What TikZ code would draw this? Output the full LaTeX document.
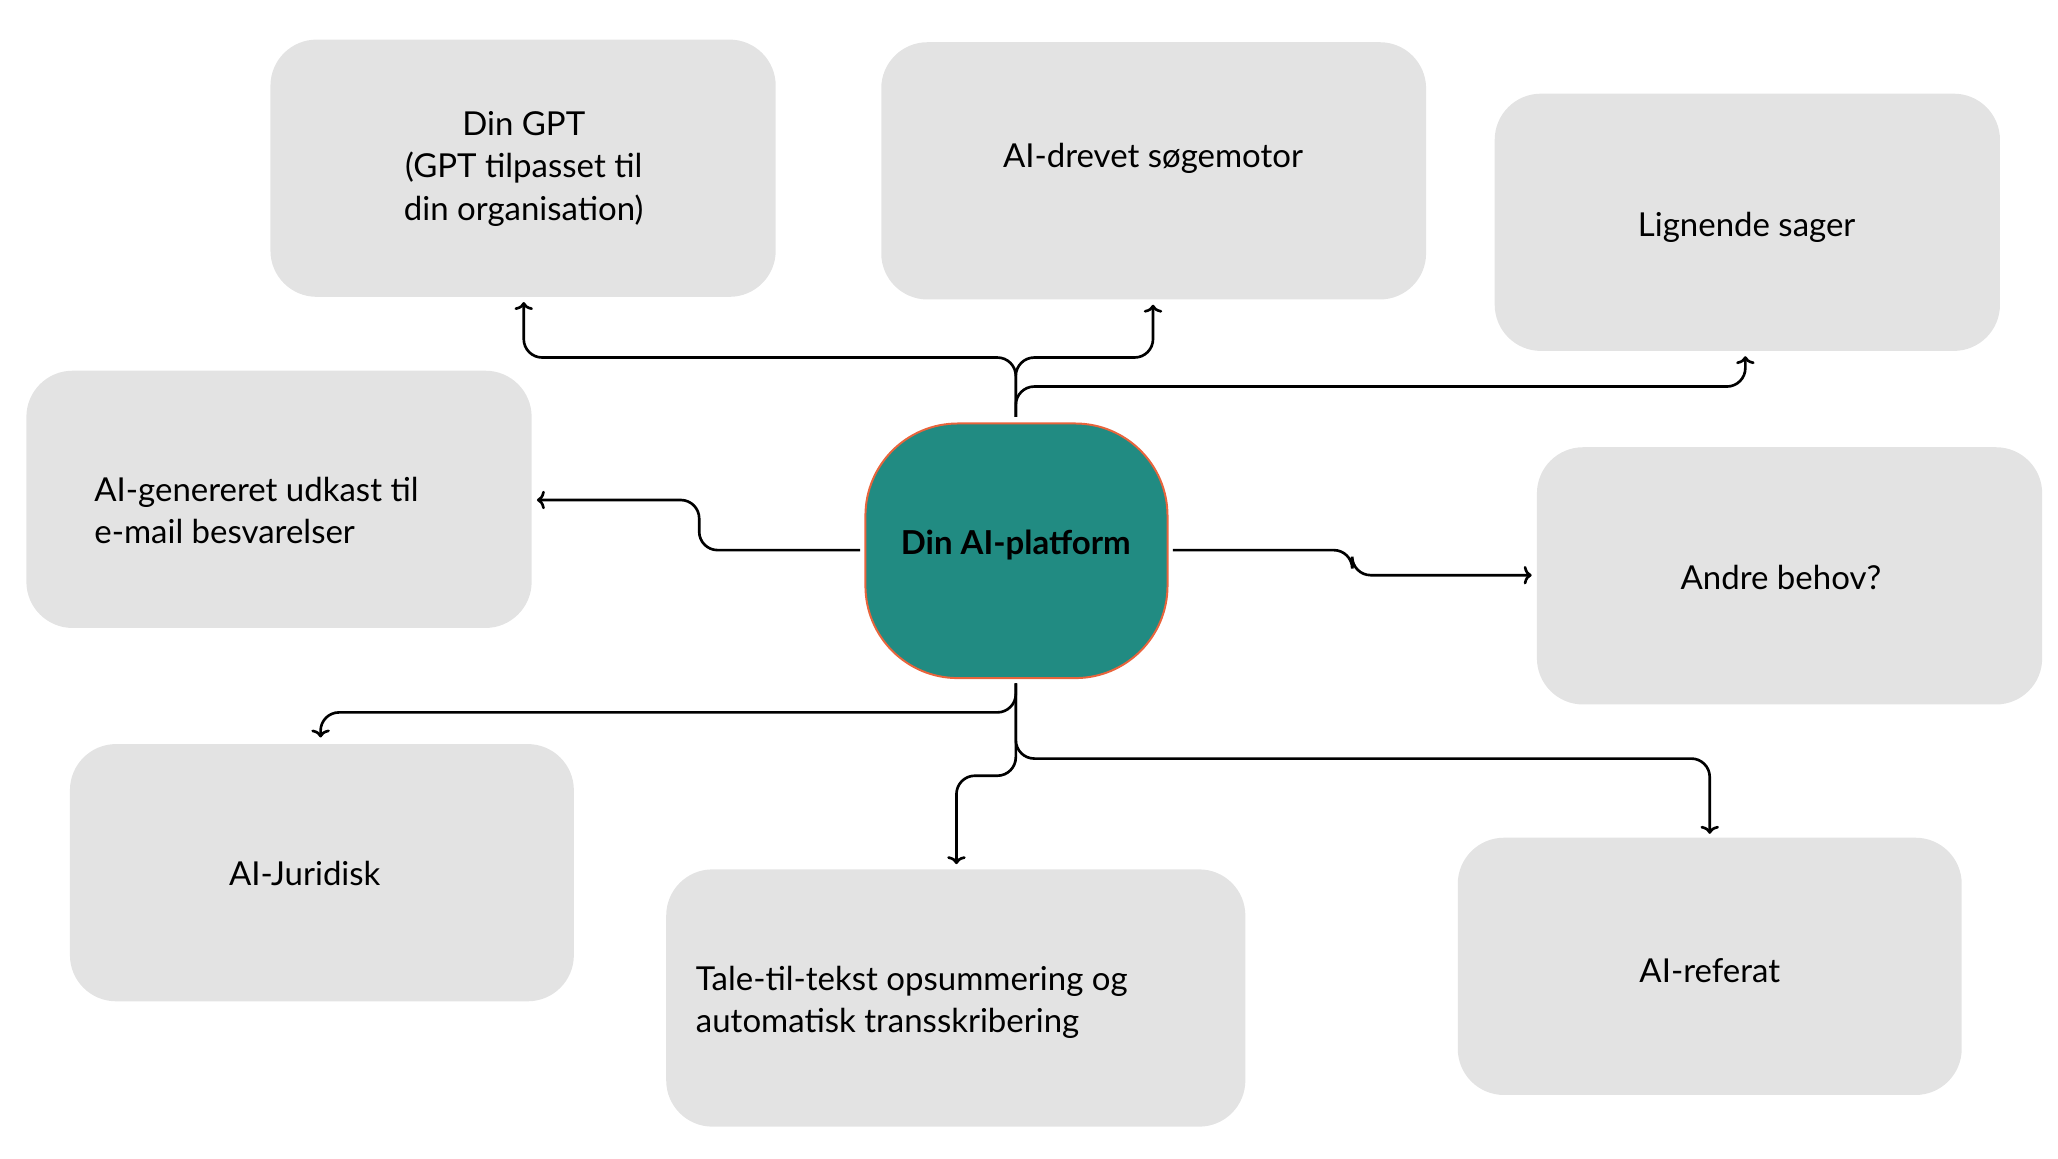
\documentclass[tikz,border=0pt]{standalone}
\usepackage{fontspec}
\setmainfont{Lato}
\usetikzlibrary{arrows.meta}
\definecolor{boxg}{HTML}{E3E3E3}
\definecolor{teal}{HTML}{218B82}
\definecolor{orng}{HTML}{E8643C}
\begin{document}
\begin{tikzpicture}[x=1pt,y=-1pt,
 box/.style={fill=boxg,rounded corners=35pt,inner sep=0pt},
 lbl/.style={font=\fontsize{25}{32}\selectfont,align=center},
 lbll/.style={font=\fontsize{25}{32}\selectfont,align=left,anchor=west},
 conn/.style={line width=2pt,rounded corners=14pt,-{To[length=6pt,width=14pt]}}]
\useasboundingbox (0,0) rectangle (1560,878.5);
\fill[box] (205,30) rectangle (588,225);
\fill[box] (668,32) rectangle (1081,227);
\fill[box] (1133,71) rectangle (1516,266);
\fill[box] (20,281) rectangle (403,476);
\fill[box] (1165,339) rectangle (1548,534);
\fill[box] (53,564) rectangle (435,759);
\fill[box] (505,659) rectangle (944,854);
\fill[box] (1105,635) rectangle (1487,830);
\node[lbl] (gpt) at (397,128) {Din GPT\\(GPT tilpasset til\\din organisation)};
\node[lbl] (sog) at (874,120) {AI-drevet søgemotor};
\node[lbl] (lig) at (1324,172) {Lignende sager};
\node[lbll] (mail) at (68,387) {AI-genereret udkast til\\e-mail besvarelser};
\node[lbl] (andre) at (1350,438) {Andre behov?};
\node[lbl] (jur) at (231,662) {AI-Juridisk};
\node[lbll] (tale) at (524,760) {Tale-til-tekst opsummering og\\automatisk transskribering};
\node[lbl] (ref) at (1296,736) {AI-referat};
\draw[fill=teal,draw=orng,line width=1.5pt,rounded corners=70pt] (656,321) rectangle (885,514);
\node[font=\fontsize{25}{32}\selectfont\bfseries] (c) at (770,413) {Din AI-platform};
\coordinate (ct) at (770,316);
\coordinate (cb) at (770,518);
\coordinate (cl) at (652,417);
\coordinate (cr) at (889,417);
\coordinate (e1) at (397,229);
\coordinate (e2) at (874,231);
\coordinate (e3) at (1323,270);
\coordinate (e4) at (407,379);
\coordinate (e5) at (1161,436);
\coordinate (e6) at (243,559);
\coordinate (e7) at (725,655);
\coordinate (e8) at (1296,632);
\draw[conn] (ct) -- (770,271) -- (397,271) -- (e1);
\draw[conn] (ct) -- (770,271) -- (874,271) -- (e2);
\draw[conn] (ct) -- (770,293) -- (1323,293) -- (e3);
\draw[conn] (cl) -- (530,417) -- (530,379) -- (e4);
\draw[conn] (cr) -- (1025,417) -- (1025,436) -- (e5);
\draw[conn] (cb) -- (770,540) -- (243,540) -- (e6);
\draw[conn] (cb) -- (770,588) -- (725,588) -- (e7);
\draw[conn] (cb) -- (770,575) -- (1296,575) -- (e8);
\end{tikzpicture}
\end{document}
